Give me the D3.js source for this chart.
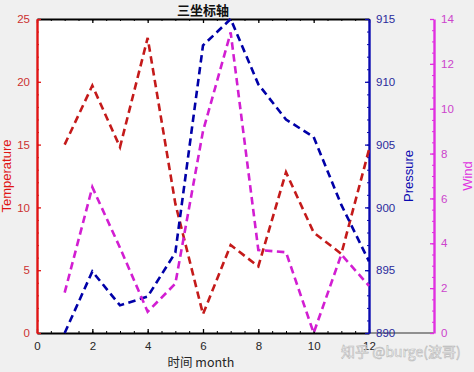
<!DOCTYPE html>
<html>
<head>
<meta charset="utf-8">
<script src="https://cdn.jsdelivr.net/npm/d3@7/dist/d3.min.js"></script>
<style>
  body { margin: 0; background: #f0f0f0; }
  svg { display: block; font-family: "Liberation Sans", Arial, sans-serif; }
</style>
</head>
<body>
<div id="chart"></div>
<script>
// data
var months = [1, 2, 3, 4, 5, 6, 7, 8, 9, 10, 11, 12];
var temperature = [15, 19.7, 14.8, 23.5, 10.3, 1.5, 7.0, 5.3, 12.8, 8.0, 6.3, 14.6];
var pressure = [890, 894.9, 892.2, 892.9, 896.4, 912.9, 915, 909.8, 907.0, 905.6, 900.2, 895.7];
var wind = [1.8, 6.5, 3.8, 0.95, 2.2, 9.0, 13.4, 3.7, 3.6, 0, 3.5, 2.1];

var xTicks = [0, 2, 4, 6, 8, 10, 12];
var tempTicks = [0, 5, 10, 15, 20, 25];
var pressTicks = [890, 895, 900, 905, 910, 915];
var windTicks = [0, 2, 4, 6, 8, 10, 12, 14];

var W = 474, H = 372;
var plotL = 37, plotR = 369, plotT = 19, plotB = 333, windX = 434;

var RED_LINE = "#c41a1a", RED_AXIS = "#e01515", RED_TEXT = "#cc3030";
var BLUE_LINE = "#0000a8", BLUE_AXIS = "#0a0ab0", BLUE_TEXT = "#2a2a9c";
var MAG_LINE = "#d21ed2", MAG_AXIS = "#e030e0", MAG_TEXT = "#cc44cc";

var svg = d3.select("#chart").append("svg")
    .attr("width", W)
    .attr("height", H);

svg.append("rect").attr("width", W).attr("height", H).attr("fill", "#f0f0f0");
svg.append("rect")
    .attr("x", plotL).attr("y", plotT)
    .attr("width", plotR - plotL).attr("height", plotB - plotT)
    .attr("fill", "#ffffff");

var x = d3.scaleLinear().domain([0, 12]).range([plotL, plotR]);
var yTemp = d3.scaleLinear().domain([0, 25]).range([plotB, plotT]);
var yPress = d3.scaleLinear().domain([890, 915]).range([plotB, plotT]);
var yWind = d3.scaleLinear().domain([0, 14]).range([plotB, plotT]);

// gray base line running over to the third axis
svg.append("line")
    .attr("x1", plotR).attr("x2", windX)
    .attr("y1", plotB).attr("y2", plotB)
    .attr("stroke", "#707070").attr("stroke-width", 1.5);

function styleAxis(g, color, width) {
  g.select(".domain").attr("stroke", color).attr("stroke-width", width);
  g.selectAll(".tick line").attr("stroke", color).attr("stroke-width", 1.3);
  g.selectAll(".tick text").attr("fill", color).attr("font-size", 11.5)
      .attr("font-family", "'Liberation Sans', Arial, sans-serif");
}

// minor ticks
function minor(axisGen, vals, scale, tx, ty, color) {
  var g = svg.append("g").attr("transform", "translate(" + tx + "," + ty + ")")
      .call(axisGen(scale).tickValues(vals).tickSize(2).tickFormat(""));
  g.select(".domain").remove();
  g.selectAll(".tick line").attr("stroke", color).attr("stroke-width", 1);
}

minor(d3.axisTop, d3.range(0, 12.01, 0.5), x, 0, plotB, "#000");
minor(d3.axisBottom, d3.range(0, 12.01, 0.5), x, 0, plotT, "#000");
minor(d3.axisRight, d3.range(0, 25.01, 1), yTemp, plotL, 0, RED_AXIS);
minor(d3.axisLeft, d3.range(890, 915.01, 1), yPress, plotR, 0, BLUE_AXIS);
minor(d3.axisLeft, d3.range(0, 14.01, 0.5), yWind, windX, 0, MAG_AXIS);

// top border
var topAxis = svg.append("g").attr("transform", "translate(0," + plotT + ")")
    .call(d3.axisBottom(x).tickValues(xTicks).tickSizeInner(4).tickSizeOuter(0).tickFormat(""));
styleAxis(topAxis, "#000", 2.2);

// bottom x axis
var xAxis = svg.append("g").attr("transform", "translate(0," + plotB + ")")
    .call(d3.axisBottom(x).tickValues(xTicks).tickSizeInner(-4).tickSizeOuter(0).tickPadding(9));
styleAxis(xAxis, "#000", 2.2);
xAxis.selectAll(".tick text").attr("fill", "#262626");

// left temperature axis
var tAxis = svg.append("g").attr("transform", "translate(" + plotL + ",0)")
    .call(d3.axisLeft(yTemp).tickValues(tempTicks).tickSizeInner(-4).tickSizeOuter(0).tickPadding(7));
styleAxis(tAxis, RED_AXIS, 2.4);
tAxis.selectAll(".tick text").attr("fill", RED_TEXT);

// right pressure axis
var pAxis = svg.append("g").attr("transform", "translate(" + plotR + ",0)")
    .call(d3.axisRight(yPress).tickValues(pressTicks).tickSizeInner(-4).tickSizeOuter(0).tickPadding(7));
styleAxis(pAxis, BLUE_AXIS, 2.4);
pAxis.selectAll(".tick text").attr("fill", BLUE_TEXT);

// third wind axis
var wAxis = svg.append("g").attr("transform", "translate(" + windX + ",0)")
    .call(d3.axisRight(yWind).tickValues(windTicks).tickSizeInner(-4).tickSizeOuter(0).tickPadding(7));
styleAxis(wAxis, MAG_AXIS, 2.4);
wAxis.selectAll(".tick text").attr("fill", MAG_TEXT);

// series
function drawLine(vals, yScale, color) {
  var line = d3.line()
      .x(function(d, i) { return x(months[i]); })
      .y(function(d) { return yScale(d); });
  svg.append("path")
      .datum(vals)
      .attr("d", line)
      .attr("fill", "none")
      .attr("stroke", color)
      .attr("stroke-width", 2.6)
      .attr("stroke-dasharray", "7.5,4.5");
}

drawLine(temperature, yTemp, RED_LINE);
drawLine(pressure, yPress, BLUE_LINE);
drawLine(wind, yWind, MAG_LINE);

// labels
var cy = (plotT + plotB) / 2;
svg.append("text")
    .attr("x", (plotL + plotR) / 2).attr("y", 15)
    .attr("text-anchor", "middle")
    .attr("font-family", "'Noto Sans CJK SC', sans-serif")
    .attr("font-size", 13).attr("font-weight", "bold")
    .attr("fill", "#111")
    .text("三坐标轴");

svg.append("text")
    .attr("x", (plotL + plotR) / 2 - 2).attr("y", 367)
    .attr("text-anchor", "middle")
    .attr("font-family", "'Noto Sans CJK SC', 'Liberation Sans', sans-serif")
    .attr("font-size", 12.5)
    .attr("fill", "#262626")
    .text("时间 month");

function yLabel(text, px, color) {
  svg.append("text")
      .attr("transform", "translate(" + px + "," + cy + ") rotate(-90)")
      .attr("text-anchor", "middle")
      .attr("font-size", 13)
      .attr("fill", color)
      .text(text);
}
yLabel("Temperature", 11, RED_AXIS);
yLabel("Pressure", 413, BLUE_AXIS);
yLabel("Wind", 472, MAG_AXIS);

// watermark
svg.append("text")
    .attr("x", 341).attr("y", 357)
    .attr("font-family", "'Noto Sans CJK SC', sans-serif")
    .attr("font-size", 14)
    .attr("fill", "#ffffff")
    .attr("fill-opacity", 0.75)
    .attr("stroke", "#b8b8b8")
    .attr("stroke-width", 0.6)
    .text("知乎 @burge(波哥)");
</script>
</body>
</html>
